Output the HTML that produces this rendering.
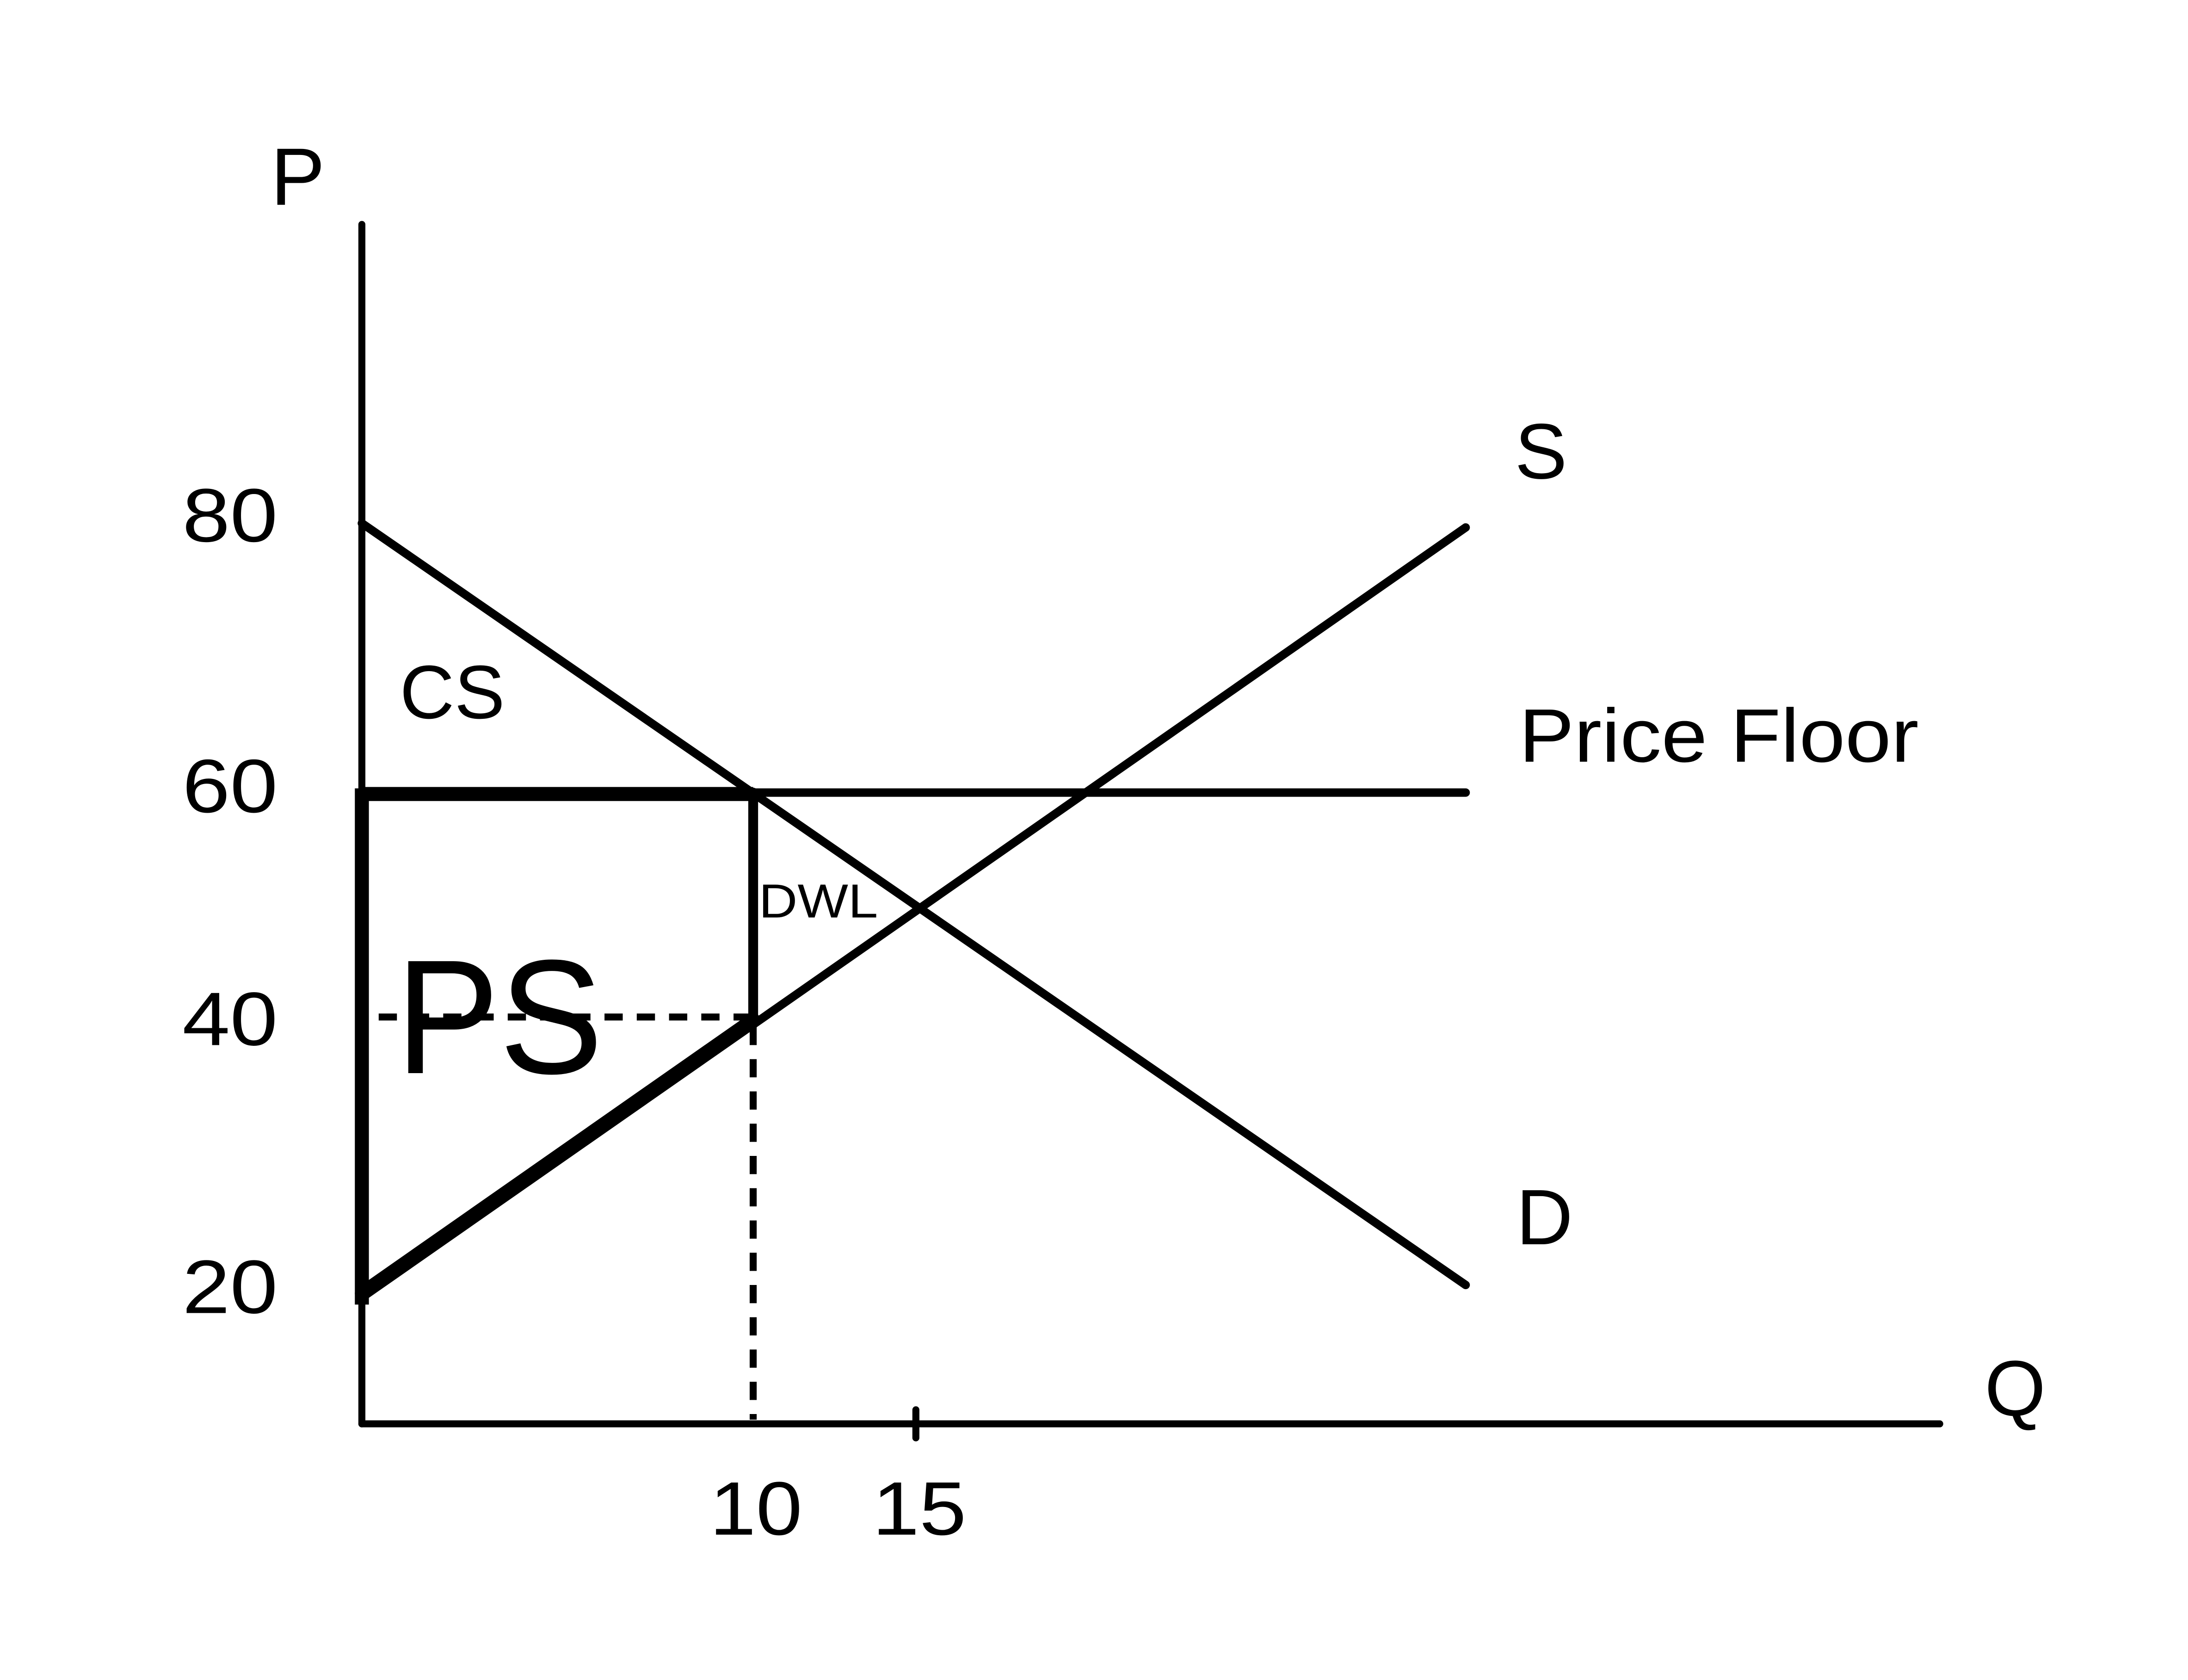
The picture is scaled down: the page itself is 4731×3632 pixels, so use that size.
<!DOCTYPE html>
<html><head><meta charset="utf-8"><style>
html,body{margin:0;padding:0;background:#fff;}
svg{display:block;}
text{font-family:"Liberation Sans",sans-serif;fill:#000;}
</style></head><body>
<svg width="4731" height="3632" viewBox="0 0 1560 1197.6" xmlns="http://www.w3.org/2000/svg">
<rect width="1560" height="1197.6" fill="#fff"/>
<g stroke="#000" stroke-linecap="round" fill="none">
<line x1="258" y1="160" x2="258" y2="1015" stroke-width="5"/>
<line x1="258" y1="1015" x2="1383" y2="1015" stroke-width="5"/>
<line x1="653" y1="1005" x2="653" y2="1025" stroke-width="5"/>
<line x1="258" y1="373" x2="1045" y2="916" stroke-width="6"/>
<line x1="258" y1="925" x2="1045" y2="376" stroke-width="6"/>
<line x1="258" y1="565" x2="1045" y2="565" stroke-width="6"/>
<line x1="258" y1="566" x2="537" y2="566" stroke-width="10" stroke-linecap="butt"/>
<line x1="258" y1="562" x2="258" y2="930" stroke-width="10" stroke-linecap="butt"/>
<line x1="537" y1="565" x2="537" y2="725" stroke-width="7"/>
<line x1="258" y1="922" x2="537" y2="727" stroke-width="10"/>
<line x1="270" y1="725" x2="537" y2="725" stroke-width="5" stroke-dasharray="13,10" stroke-linecap="butt"/>
<line x1="537" y1="732" x2="537" y2="1012" stroke-width="5" stroke-dasharray="13,10" stroke-linecap="butt"/>
</g>
<text x="193" y="146" font-size="58">P</text>
<text x="130" y="386" font-size="54" textLength="68" lengthAdjust="spacingAndGlyphs">80</text>
<text x="130" y="579" font-size="54" textLength="68" lengthAdjust="spacingAndGlyphs">60</text>
<text x="130" y="745" font-size="54" textLength="68" lengthAdjust="spacingAndGlyphs">40</text>
<text x="130" y="936" font-size="54" textLength="68" lengthAdjust="spacingAndGlyphs">20</text>
<text x="506" y="1094" font-size="54" textLength="66" lengthAdjust="spacingAndGlyphs">10</text>
<text x="622" y="1094" font-size="54" textLength="67" lengthAdjust="spacingAndGlyphs">15</text>
<text x="1080" y="341" font-size="56">S</text>
<text x="1083" y="543" font-size="54" textLength="285" lengthAdjust="spacingAndGlyphs">Price Floor</text>
<text x="1081" y="887" font-size="56">D</text>
<text x="1415" y="1009" font-size="56">Q</text>
<text x="285" y="512" font-size="54" textLength="75" lengthAdjust="spacingAndGlyphs">CS</text>
<text x="541" y="654" font-size="34" textLength="85" lengthAdjust="spacingAndGlyphs">DWL</text>
<text x="282" y="765" font-size="116" textLength="148" lengthAdjust="spacingAndGlyphs">PS</text>
</svg>
</body></html>
